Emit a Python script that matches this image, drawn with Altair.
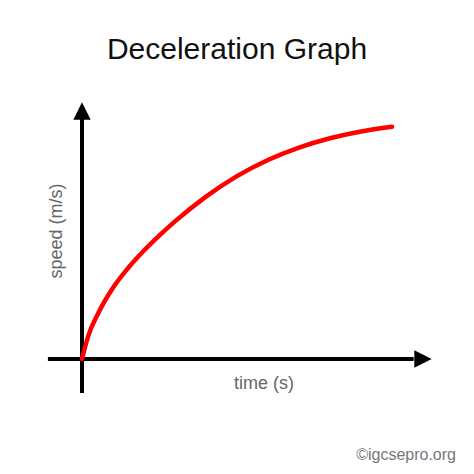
import altair as alt
import pandas as pd

# Curve values (time units, speed units)
time = [0, 0.2, 0.5, 1, 1.5, 2, 2.5, 3, 4, 5, 6, 7, 8, 9, 10]
speed = [0, 0.74, 1.43, 2.30, 2.95, 3.50, 3.99, 4.44, 5.24, 5.90, 6.42, 6.82, 7.12, 7.34, 7.49]

# Axis extents (data units)
x_axis_span = [-1.1, 10.7]
y_axis_span = [-1.1, 7.8]
x_arrow_at = 11.0
y_arrow_at = 8.0

title_text = "Deceleration Graph"
x_label = "time (s)"
y_label = "speed (m/s)"
credit = "©igcsepro.org"

FONT = "Liberation Sans"

xs = alt.Scale(domain=[-2.3871, 12.387], nice=False, zero=False)
ys = alt.Scale(domain=[-3.4516, 11.3226], nice=False, zero=False)

curve_df = pd.DataFrame({"t": time, "s": speed})
hrule_df = pd.DataFrame({"t": [x_axis_span[0]], "t2": [x_axis_span[1]], "s": [0]})
vrule_df = pd.DataFrame({"t": [0], "s": [y_axis_span[0]], "s2": [y_axis_span[1]]})
up_df = pd.DataFrame({"t": [0], "s": [y_arrow_at]})
right_df = pd.DataFrame({"t": [x_arrow_at], "s": [0]})

hrule = alt.Chart(hrule_df).mark_rule(color="black", strokeWidth=4, strokeCap="butt").encode(
    x=alt.X("t:Q", scale=xs, axis=None), x2="t2:Q",
    y=alt.Y("s:Q", scale=ys, axis=None))
vrule = alt.Chart(vrule_df).mark_rule(color="black", strokeWidth=4, strokeCap="butt").encode(
    x=alt.X("t:Q", scale=xs, axis=None),
    y=alt.Y("s:Q", scale=ys, axis=None), y2="s2:Q")
up = alt.Chart(up_df).mark_point(shape="M0,-1L1,1L-1,1Z", size=300, filled=True,
                                 color="black", opacity=1).encode(
    x=alt.X("t:Q", scale=xs, axis=None), y=alt.Y("s:Q", scale=ys, axis=None))
right = alt.Chart(right_df).mark_point(shape="M1,0L-1,-1L-1,1Z", size=300, filled=True,
                                       color="black", opacity=1).encode(
    x=alt.X("t:Q", scale=xs, axis=None), y=alt.Y("s:Q", scale=ys, axis=None))
curve = alt.Chart(curve_df).mark_line(color="#ff0000", strokeWidth=4.5, interpolate="monotone",
                                      strokeCap="round").encode(
    x=alt.X("t:Q", scale=xs, axis=None), y=alt.Y("s:Q", scale=ys, axis=None))

one = alt.Data(values=[{}])
title = alt.Chart(one).mark_text(text=title_text, font=FONT, fontSize=30, color="#111",
                                 align="center", baseline="alphabetic").encode(
    x=alt.value(229), y=alt.value(51))
xl = alt.Chart(one).mark_text(text=x_label, font=FONT, fontSize=18, color="#666",
                              align="center", baseline="alphabetic").encode(
    x=alt.value(256), y=alt.value(381))
yl = alt.Chart(one).mark_text(text=y_label, font=FONT, fontSize=18, color="#666", angle=270,
                              align="center", baseline="middle").encode(
    x=alt.value(49), y=alt.value(223))
cr = alt.Chart(one).mark_text(text=credit, font=FONT, fontSize=16, color="#777",
                              align="right", baseline="alphabetic").encode(
    x=alt.value(448), y=alt.value(452))

chart = alt.layer(hrule, vrule, up, right, curve, title, xl, yl, cr).properties(
    width=458, height=458, autosize=alt.AutoSizeParams(type="none"), padding=0,
    background="white"
).configure_view(stroke=None)

chart.save("out.html", embed_options={"renderer": "svg", "actions": False})
